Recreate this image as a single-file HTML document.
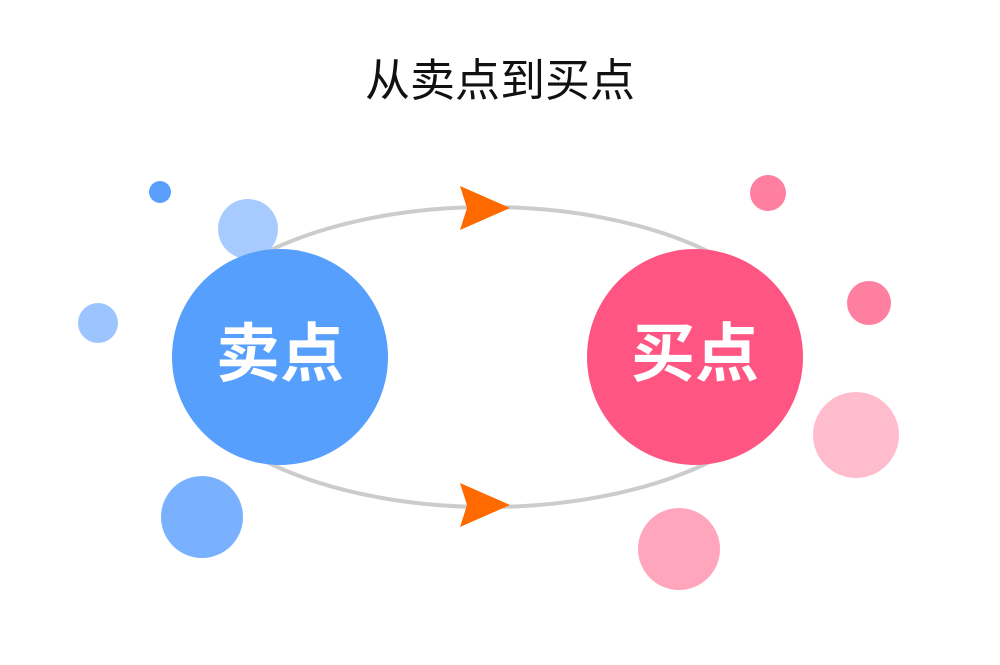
<!DOCTYPE html>
<html><head><meta charset="utf-8"><style>
html,body{margin:0;padding:0;background:#fff;}
body{width:1000px;height:660px;overflow:hidden;}
</style></head><body>
<svg width="1000" height="660" viewBox="0 0 1000 660" xmlns="http://www.w3.org/2000/svg">
<text x="500" y="96" text-anchor="middle" font-family="Liberation Sans, Noto Sans CJK SC, sans-serif" font-size="45" fill="#111">从卖点到买点</text>
<ellipse cx="488" cy="357" rx="310" ry="150" fill="none" stroke="#cccccc" stroke-width="4"/>
<polygon points="510,208 460,186 467,208 460,230" fill="#ff6a00"/>
<polygon points="510,505 460,483 467,505 460,527" fill="#ff6a00"/>
<circle cx="160" cy="192" r="11" fill="#5a9ffd"/>
<circle cx="248" cy="229" r="30" fill="#a8cbff"/>
<circle cx="98" cy="323" r="20" fill="#9cc4ff"/>
<circle cx="202" cy="517" r="41" fill="#7ab1ff"/>
<circle cx="280" cy="357" r="108" fill="#569ffd"/>
<text x="280" y="376" text-anchor="middle" font-family="Liberation Sans, Noto Sans CJK SC, sans-serif" font-size="64" font-weight="bold" fill="#fff">卖点</text>
<circle cx="768" cy="193" r="18" fill="#ff7fa0"/>
<circle cx="869" cy="303" r="22" fill="#ff7fa0"/>
<circle cx="856" cy="435" r="43" fill="#ffbccd"/>
<circle cx="679" cy="549" r="41" fill="#ffa6bd"/>
<circle cx="695" cy="357" r="108" fill="#ff5583"/>
<text x="695" y="376" text-anchor="middle" font-family="Liberation Sans, Noto Sans CJK SC, sans-serif" font-size="64" font-weight="bold" fill="#fff">买点</text>
</svg>
</body></html>
